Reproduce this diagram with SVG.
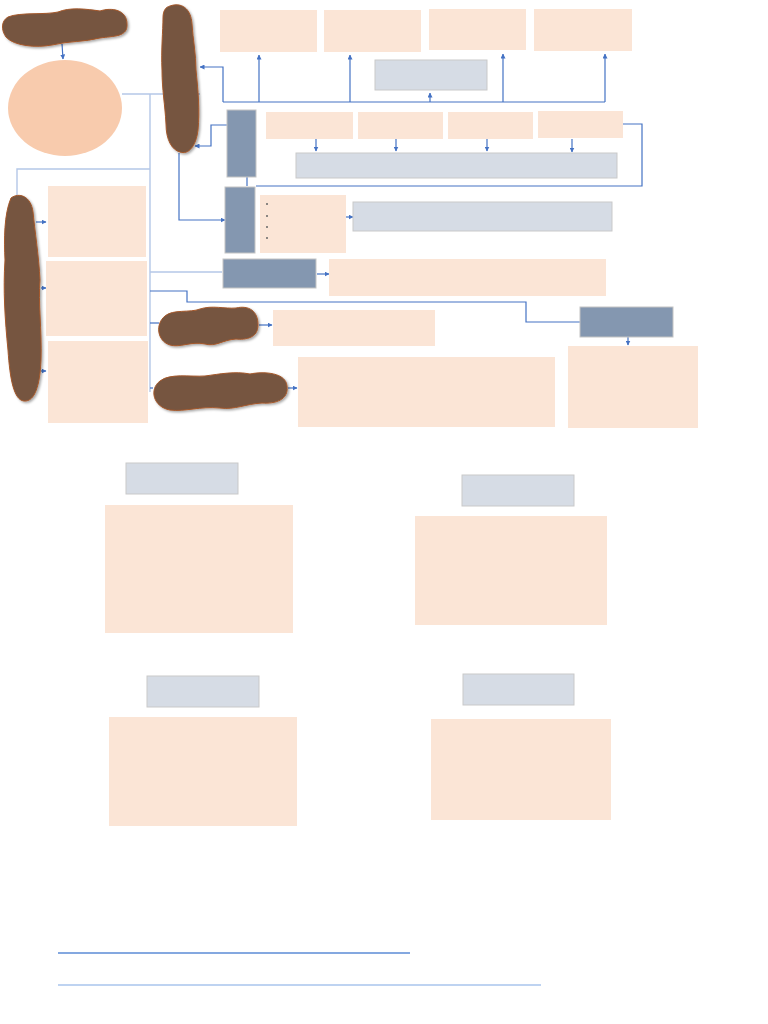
<svg xmlns="http://www.w3.org/2000/svg" width="768" height="1024" viewBox="0 0 768 1024">
<style>
.pk{fill:#fbe5d6;}
.lg{fill:#d6dce5;stroke:#c9c9c9;stroke-width:1;}
.dk{fill:#8497b0;stroke:#c4c4c4;stroke-width:1;}
.blob{fill:#765440;stroke:#a5582a;stroke-width:1;filter:url(#sh);}
.c{fill:none;stroke:#4472c4;stroke-width:1.2;}
.cl{fill:none;stroke:#b4c7e7;stroke-width:1.4;}
.ca{fill:none;stroke:#4472c4;stroke-width:1.2;marker-end:url(#ah);}
</style>
<defs>
<marker id="ah" viewBox="0 0 10 10" refX="9" refY="5" markerWidth="5" markerHeight="5" orient="auto" markerUnits="userSpaceOnUse">
<path d="M0 0 L10 5 L0 10 Z" fill="#4472c4"/>
</marker>
<filter id="sh" x="-20%" y="-20%" width="140%" height="140%">
<feDropShadow dx="1.5" dy="1.5" stdDeviation="1" flood-color="#000" flood-opacity="0.35"/>
</filter>
</defs>

<g id="connectors">
<path class="ca" d="M62 44 L63 59"/>
<path class="cl" d="M122 94 L200 94"/>
<path class="cl" d="M150 94 L150 392"/>
<path class="cl" d="M150 169 L17 169 L17 196"/>
<path class="cl" d="M150 272 L222 272"/>
<path class="c" d="M150 291 L187 291 L187 302 L526 302 L526 322 L580 322"/>
<path class="c" d="M150 323 L159 323"/>
<path class="c" d="M150 388 L153 388"/>
<path class="ca" d="M223 102 L223 67 L200 67"/>
<path class="c" d="M223 102 L605 102"/>
<path class="ca" d="M259 102 L259 55"/>
<path class="ca" d="M350 102 L350 55"/>
<path class="ca" d="M503 102 L503 54"/>
<path class="ca" d="M605 102 L605 54"/>
<path class="ca" d="M430 102 L430 93"/>
<path class="ca" d="M227 125 L211 125 L211 146 L195 146"/>
<path class="ca" d="M316 137 L316 151"/>
<path class="ca" d="M396 139 L396 151"/>
<path class="ca" d="M487 137 L487 151"/>
<path class="ca" d="M572 139 L572 152"/>
<path class="c" d="M623 124 L642 124 L642 186 L256 186"/>
<path class="c" d="M247 177 L247 186"/>
<path class="ca" d="M179 153 L179 220 L225 220"/>
<path class="ca" d="M346 217 L353 217"/>
<path class="ca" d="M317 274 L329 274"/>
<path class="ca" d="M628 337 L628 345"/>
<path class="ca" d="M259 325 L272 325"/>
<path class="ca" d="M288 388 L297 388"/>
<path class="ca" d="M36 222 L46 222"/>
<path class="ca" d="M41 288 L46 288"/>
<path class="ca" d="M41 371 L46 371"/>
<path d="M58 953 L410 953" fill="none" stroke="#5b8bd6" stroke-width="1.3"/>
<path d="M58 985 L541 985" fill="none" stroke="#a9c4ec" stroke-width="1.5"/>
</g>

<g id="blob1"><path class="blob" d="M8 17 C20 12,46 15,58 12 C70 7,86 9,100 11 C112 7,127 10,127 24 C128 37,114 36,100 38 C85 42,68 41,52 45 C36 48,14 46,6 37 C1 30,1 21,8 17 Z"/></g>
<g id="ellipse"><ellipse cx="65" cy="108" rx="57" ry="48" fill="#f8cbad"/></g>
<g id="blob2"><path class="blob" d="M170 6 C181 2,191 8,192 24 C193 40,196 54,196 70 C198 90,200 110,198 130 C196 147,188 155,180 152 C172 150,166 140,166 124 C165 104,162 90,162 70 C161 50,163 30,163 18 C163 10,166 7,170 6 Z"/></g>
<g id="blob3"><path class="blob" d="M11 198 C19 192,31 196,33 212 C35 232,39 258,40 280 C38 302,42 330,41 360 C40 385,35 402,24 401 C14 400,10 380,8 350 C5 320,3 290,5 260 C4 240,4 214,11 198 Z"/></g>
<g id="blob4"><path class="blob" d="M165 316 C173 309,190 313,200 309 C212 305,225 309,236 308 C249 305,258 311,258 325 C258 338,246 340,236 339 C222 340,216 347,205 344 C191 341,180 348,170 345 C157 341,155 324,165 316 Z"/></g>
<g id="blob5"><path class="blob" d="M160 381 C170 373,190 377,205 376 C220 374,235 371,250 374 C265 371,286 373,287 386 C289 400,275 404,262 403 C245 404,235 410,220 408 C200 406,185 412,170 410 C153 407,149 389,160 381 Z"/></g>

<g id="top1"><rect class="pk" x="220" y="10" width="97" height="42"/></g>
<g id="top2"><rect class="pk" x="324" y="10" width="97" height="42"/></g>
<g id="top3"><rect class="pk" x="429" y="9" width="97" height="41"/></g>
<g id="top4"><rect class="pk" x="534" y="9" width="98" height="42"/></g>
<g id="greyTop"><rect class="lg" x="375" y="60" width="112" height="30"/></g>

<g id="dark1"><rect class="dk" x="227" y="110" width="29" height="67"/></g>
<g id="row1"><rect class="pk" x="266" y="112" width="87" height="27"/></g>
<g id="row2"><rect class="pk" x="358" y="112" width="85" height="27"/></g>
<g id="row3"><rect class="pk" x="448" y="112" width="85" height="27"/></g>
<g id="row4"><rect class="pk" x="538" y="111" width="85" height="27"/></g>
<g id="greyWide"><rect class="lg" x="296" y="153" width="321" height="25"/></g>

<g id="dark2"><rect class="dk" x="225" y="187" width="30" height="66"/></g>
<g id="bullets">
<rect class="pk" x="260" y="195" width="86" height="58"/>
<circle cx="267" cy="204" r="1" fill="#666"/>
<circle cx="267" cy="216" r="1" fill="#666"/>
<circle cx="267" cy="227" r="1" fill="#666"/>
<circle cx="267" cy="238" r="1" fill="#666"/>
</g>
<g id="greyMid"><rect class="lg" x="353" y="202" width="259" height="29"/></g>

<g id="dark3"><rect class="dk" x="223" y="259" width="93" height="29"/></g>
<g id="peachMid"><rect class="pk" x="329" y="259" width="277" height="37"/></g>

<g id="dark4"><rect class="dk" x="580" y="307" width="93" height="30"/></g>
<g id="peachRight"><rect class="pk" x="568" y="346" width="130" height="82"/></g>
<g id="peachB4"><rect class="pk" x="273" y="310" width="162" height="36"/></g>
<g id="peachB5"><rect class="pk" x="298" y="357" width="257" height="70"/></g>

<g id="left1"><rect class="pk" x="48" y="186" width="98" height="71"/></g>
<g id="left2"><rect class="pk" x="46" y="261" width="101" height="75"/></g>
<g id="left3"><rect class="pk" x="48" y="341" width="100" height="82"/></g>

<g id="q1"><rect class="lg" x="126" y="463" width="112" height="31"/><rect class="pk" x="105" y="505" width="188" height="128"/></g>
<g id="q2"><rect class="lg" x="462" y="475" width="112" height="31"/><rect class="pk" x="415" y="516" width="192" height="109"/></g>
<g id="q3"><rect class="lg" x="147" y="676" width="112" height="31"/><rect class="pk" x="109" y="717" width="188" height="109"/></g>
<g id="q4"><rect class="lg" x="463" y="674" width="111" height="31"/><rect class="pk" x="431" y="719" width="180" height="101"/></g>
</svg>
